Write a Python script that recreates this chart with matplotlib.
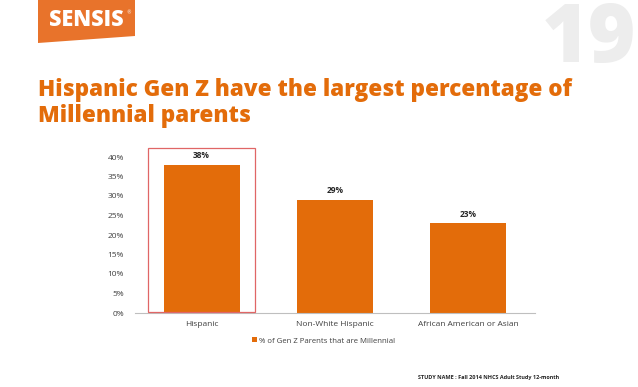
import matplotlib.pyplot as plt
from matplotlib.patches import Polygon, Rectangle

# values
categories = ["Hispanic", "Non-White Hispanic", "African American or Asian"]
values = [38, 29, 23]
series_name = "% of Gen Z Parents that are Millennial"
yticks = [0, 5, 10, 15, 20, 25, 30, 35, 40]

ORANGE = "#E36C0A"
TEXT = "#404040"

W, H = 638, 387
fig = plt.figure(figsize=(W / 100, H / 100), dpi=100)
fig.patch.set_facecolor("white")


def fx(px):
    return px / W


def fy(py):
    return 1 - py / H


# logo block
logo = Polygon([(fx(38), fy(0)), (fx(135), fy(0)), (fx(135), fy(36)), (fx(38), fy(43))],
               closed=True, transform=fig.transFigure, facecolor="#E8732B", edgecolor="none")
fig.patches.append(logo)
fig.text(fx(86), fy(20), "SENSIS", color="white", fontsize=15.5, fontweight="heavy",
         family="Open Sans", ha="center", va="center")
fig.text(fx(129), fy(13), "®", color="white", fontsize=3.5, ha="center", va="center")

# big slide number
fig.text(fx(636), fy(62), "19", color="#EDEDED", fontsize=58, fontweight="heavy",
         family="Open Sans", ha="right", va="baseline", zorder=0)

# title
fig.text(fx(38), fy(78), "Hispanic Gen Z have the largest percentage of\nMillennial parents",
         color=ORANGE, fontsize=16.2, fontweight="heavy", family="Open Sans",
         ha="left", va="top", linespacing=1.12)

# chart area
ax = fig.add_axes([fx(135), fy(313), fx(535) - fx(135), (313 - 157) / H])
x = range(len(categories))
bars = ax.bar(x, values, width=0.57, color=ORANGE, label=series_name, zorder=2)
for xi, v in zip(x, values):
    ax.text(xi, v + 1.2, f"{v}%", ha="center", va="bottom", fontsize=6,
            fontweight="bold", color="#262626", family="Open Sans")

ax.set_xlim(-0.5, len(categories) - 0.5)
ax.set_ylim(0, 40)
ax.set_yticks(yticks)
ax.set_yticklabels([f"{t}%" for t in yticks], fontsize=6, color=TEXT, family="Open Sans")
ax.set_xticks(list(x))
ax.set_xticklabels(categories, fontsize=6, color=TEXT, family="Open Sans")
ax.tick_params(axis="both", length=0, pad=8)
ax.tick_params(axis="x", pad=6)
for side in ["top", "right", "left"]:
    ax.spines[side].set_visible(False)
ax.spines["bottom"].set_color("#BFBFBF")
ax.spines["bottom"].set_linewidth(0.8)

# highlight box around the first bar
ax.add_patch(Rectangle((-0.4, 0.2), 0.8, 42.2 - 0.2, fill=False, edgecolor="#E06666",
                       linewidth=0.9, clip_on=False, zorder=3))

leg = fig.legend(handles=[bars], labels=[series_name], loc="center",
                 bbox_to_anchor=(fx(324), fy(341)), frameon=False,
                 prop={"family": "Open Sans", "size": 5.6}, handlelength=0.6,
                 handleheight=0.6, handletextpad=0.3)
for t in leg.get_texts():
    t.set_color(TEXT)

# footnote
fig.text(fx(418), fy(378), "STUDY NAME : Fall 2014 NHCS Adult Study 12-month",
         fontsize=3.95, fontweight="bold", color="#262626", family="Open Sans",
         ha="left", va="center")

fig.savefig("out.png", dpi=100)
